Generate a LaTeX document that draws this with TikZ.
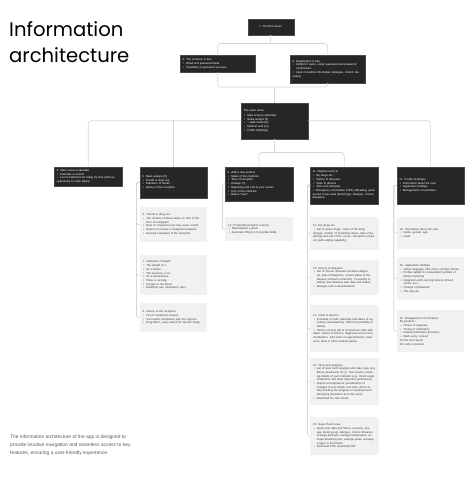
\documentclass[tikz,border=0pt]{standalone}
\usepackage{fontspec}
\setmainfont{Liberation Sans}
\newfontfamily\titlefont{Poppins}
\usepackage{xcolor}
\definecolor{boxDark}{HTML}{262626}
\definecolor{boxEdge}{HTML}{4A4A4A}
\definecolor{boxLight}{HTML}{F0F1F3}
\definecolor{lineGray}{HTML}{D6D6D6}
\definecolor{textGray}{HTML}{3A3A3A}
\definecolor{noteGray}{HTML}{5A5A5A}
\newcommand{\boxfont}{\fontsize{2.8}{3.7}\selectfont}
\newcommand{\bl}[1]{\par\hangindent=3.6pt\hangafter=1\noindent\makebox[3.6pt][l]{\hspace{0.6pt}\textbullet}#1}

\begin{document}
\begin{tikzpicture}[
    x=1pt, y=-1pt,
    darkBox/.style={fill=boxDark, draw=boxEdge, line width=0.3pt, text=white, font=\boxfont, align=left, anchor=north west, inner xsep=2.5pt, inner ysep=1pt},
    lightBox/.style={fill=boxLight, text=textGray, font=\boxfont, align=left, anchor=north west, inner xsep=3pt, inner ysep=1pt},
    link/.style={draw=lineGray, line width=0.7pt, rounded corners=3pt},
    chain/.style={link, rounded corners=1.5pt}
]
    \useasboundingbox (0,0) rectangle (474,477);

    % title and note
    \node[anchor=north west, inner sep=0pt, align=left, font=\titlefont\fontsize{19.6}{26}\selectfont] (title) at (9,21) {Information\\architecture};
    \node[anchor=north west, inner sep=0pt, align=left, text=noteGray, font=\fontsize{4.9}{7.8}\selectfont] (note) at (10,435) {The information architecture of the app is designed to\\provide intuitive navigation and seamless access to key\\features, ensuring a user-friendly experience.};

    % top levels
    \node[darkBox, align=center, minimum width=46pt, minimum height=16pt] (first) at (247.5,18.5) {1. The first screen};
    \node[darkBox, text width=70pt, minimum height=17pt] (entry) at (180,55) {
        2. The entrance is free
        \bl{Email and password fields}
        \bl{Possibility of password recovery}
    };
    \node[darkBox, text width=70pt, minimum height=27.5pt] (signup) at (290,55) {
        3. Registration is free
        \bl{Fields for name, email, password and password confirmation}
        \bl{Input of medical information (allergies, chronic diseases)}
    };
    \node[darkBox, text width=62pt, minimum height=36pt] (menu) at (241,102.5) {
        The lower menu:\par\vspace{1.5pt}
        \bl{Main screen (calendar)}
        \bl{News analyst (5)}
        \bl{+ (add medicine)}
        \bl{Medical card (11)}
        \bl{Profile (Settings)}
    };

    % menu columns
    \node[darkBox, text width=63pt, minimum height=19pt] (home) at (54,166.5) {
        4. Main screen (calendar)
        \bl{Calendar of events}
        \bl{List of medicines for today by time (with an opportunity to mark taken)}
    };
    \node[darkBox, text width=62.5pt, minimum height=31.5pt] (news) at (139.5,166.5) {
        5. News analyst (5)
        \bl{Trends in drug use}
        \bl{Indicators of health}
        \bl{History of the reception}
    };
    \node[darkBox, text width=62.5pt, minimum height=34pt] (addMed) at (225,166.5) {
        9. Add a new product
        \bl{Name of the medicine}
        \bl{Time of reception}
        \bl{Dosage (?)}
        \bl{Beginning and end of your course}
        \bl{Icon of the medicine}
        \bl{Button "save"}
    };
    \node[darkBox, text width=63pt, minimum height=37pt] (medCard) at (310,166.5) {
        11. Medical card (1)
        \bl{My drugs etc...}
        \bl{History of diseases}
        \bl{Visits to doctors}
        \bl{Tests and analyses}
        \bl{Emergency information (PDF) offloading, quick access to key data (blood type, allergies, chronic diseases)}
    };
    \node[darkBox, text width=62pt, minimum height=37.5pt] (profile) at (396.7,166.5) {
        17. Profile (Settings)
        \bl{Information about the user}
        \bl{Application Settings}
        \bl{Management of reminders}
    };

    % news analyst
    \node[lightBox, text width=61.2pt, minimum height=35pt] (trends) at (139.5,206.7) {
        6. Trends in drug use:
        \bl{The number of doses taken on time in the form of a diagram.}
        \bl{Rate of compliance per day, week, month.}
        \bl{Report on missed or delayed receptions.}
        \bl{General evaluation of the reception}
    };
    \node[lightBox, text width=61.2pt, minimum height=40pt] (health) at (139.5,255) {
        7. Indicators of health:
        \bl{The weight of it.}
        \bl{It's a bloom.}
        \bl{The pressure is on.}
        \bl{It's a temperature.}
        \bl{Pulse is running.}
        \bl{Oxygen in the blood.}
        \bl{Breathing rate (respiratory rate)}
    };
    \node[lightBox, text width=61.2pt, minimum height=29pt] (history) at (139.5,303) {
        8. History of the reception:
        \bl{List of completed courses}
        \bl{Successful compliance with the regimen}
        \bl{Drug filters: easy search for specific drugs}
    };

    % add product
    \node[lightBox, text width=61.5pt, minimum height=24pt] (scanner) at (225,217) {
        10. Product/prescription scanner
        \bl{Make/upload a photo}
        \bl{Automatic filling in of possible fields}
    };

    % medical card
    \node[lightBox, text width=62.3pt, minimum height=33.3pt] (myDrugs) at (310,216.7) {
        12. My drugs etc.
        \bl{List of active drugs: name of the drug, dosage, number of remaining doses, date of beginning and end of the course. Reception schedule (with editing capability)}
    };
    \node[lightBox, text width=62.3pt, minimum height=35pt] (diseases) at (310,260) {
        13. History of diseases:
        \bl{List of chronic diseases (includes diagnosis, date of diagnosis, current status of the disease (active/in remission). Possibility of adding new diseases with date and details.}
        \bl{Allergies and contraindications}
    };
    \node[lightBox, text width=62.3pt, minimum height=46.7pt] (visits) at (310,305) {
        14. Visits to doctors:
        \bl{Schedule of visits (calendar with dates of upcoming consultations). With the possibility of editing.}
        \bl{History of visits (list of all previous visits with dates, names of doctors, diagnoses and recommendations. Add notes on appointments, treatment, tests or other medical plans)}
    };
    \node[lightBox, text width=62.3pt, minimum height=47pt] (tests) at (310,358) {
        15. Tests and analyses:
        \bl{List of tests (both analysis with date, type (e.g. blood, ultrasound, etc.)). Test results, including details of each indicator (e.g. blood sugar, cholesterol and other important parameters)}
        \bl{Graphs and dynamics (visualization of changes in test results over time, which allows tracking the progress of treatment and identifying deviations from the norm)}
        \bl{Download the test results}
    };
    \node[lightBox, text width=62.3pt, minimum height=38.3pt] (flash) at (310,416.7) {
        16. Never flash news:
        \bl{Quick user data (full Name, surname, sex, age, blood group, allergies, chronic illnesses, average pressure, average temperature, average breathing rate, average pulse, average oxygen in the blood)}
        \bl{Download PDF, download PDF}
    };

    % profile
    \node[lightBox, text width=61.3pt, minimum height=31.6pt] (userInfo) at (396.7,216.7) {
        18. Information about the user
        \bl{Name, gender, age}
        \bl{email}
    };
    \node[lightBox, text width=61.3pt, minimum height=43.3pt] (appSettings) at (396.7,256.7) {
        19. Application Settings
        \bl{Select language, time zone, interface theme}
        \bl{Profiles (ability to create/switch profiles of family members)}
        \bl{Integration with carrying devices (smart clocks, etc.)}
        \bl{Change of password}
        \bl{The way out}
    };
    \node[lightBox, text width=61.3pt, minimum height=41.7pt] (reminders) at (396.7,310) {
        20. Management of reminders
        \par By products:
        \bl{Choice of separate}
        \bl{Timing of notification}
        \bl{Repeat notification (function)}
        \bl{Mark every contract}
        \par On the test results
        \par On visits to doctors
    };

    % connectors
    \coordinate (topbar) at (0,43.5);
    \coordinate (midbar) at (0,87);
    \coordinate (addbar) at (0,152.5);
    \draw[link] (first.south) -- (first.south |- topbar);
    \draw[link] (entry.north) |- (first.south |- topbar) -| (signup.north);
    \draw[link] (entry.south) |- (menu.north |- midbar) -| (signup.south);
    \draw[link] (menu.north |- midbar) -- (menu.north);

    \draw[link] (home.north) |- (menu.west);
    \draw[link] (menu.east) -| (profile.north);
    \draw[link] (news.north) -- (news.north |- menu.west);
    \draw[link] (menu.south) -- (menu.south |- addbar);
    \draw[link] (addMed.north) |- (menu.south |- addbar) -| (medCard.north);

    \foreach \sub in {trends,health,history}
        \draw[chain] (news.west) -- ([xshift=-3pt]news.west) |- (\sub.west);
    \draw[chain] (addMed.west) -- ([xshift=-2.5pt]addMed.west) |- (scanner.west);
    \foreach \sub in {myDrugs,diseases,visits,tests,flash}
        \draw[chain] (medCard.west) -- ([xshift=-2.5pt]medCard.west) |- (\sub.west);
    \foreach \sub in {userInfo,appSettings,reminders}
        \draw[chain] (profile.west) -- ([xshift=-3pt]profile.west) |- (\sub.west);
\end{tikzpicture}
\end{document}
